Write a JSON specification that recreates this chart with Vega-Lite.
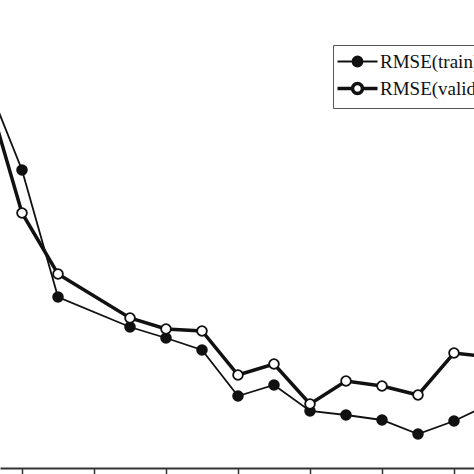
{
  "$schema": "https://vega.github.io/schema/vega-lite/v6.json",
  "width": 474,
  "height": 468,
  "padding": 0,
  "autosize": {"type": "pad"},
  "background": "white",
  "config": {"view": {"stroke": null}},
  "data": {
    "values": [
      {"series": "RMSE(train)", "x": 0, "rmse": 0.970},
      {"series": "RMSE(train)", "x": 1, "rmse": 0.745},
      {"series": "RMSE(train)", "x": 2, "rmse": 0.4275},
      {"series": "RMSE(train)", "x": 4, "rmse": 0.3525},
      {"series": "RMSE(train)", "x": 5, "rmse": 0.325},
      {"series": "RMSE(train)", "x": 6, "rmse": 0.295},
      {"series": "RMSE(train)", "x": 7, "rmse": 0.18},
      {"series": "RMSE(train)", "x": 8, "rmse": 0.2075},
      {"series": "RMSE(train)", "x": 9, "rmse": 0.1425},
      {"series": "RMSE(train)", "x": 10, "rmse": 0.1325},
      {"series": "RMSE(train)", "x": 11, "rmse": 0.12},
      {"series": "RMSE(train)", "x": 12, "rmse": 0.085},
      {"series": "RMSE(train)", "x": 13, "rmse": 0.1175},
      {"series": "RMSE(train)", "x": 14, "rmse": 0.16},
      {"series": "RMSE(valid)", "x": 0, "rmse": 0.9475},
      {"series": "RMSE(valid)", "x": 1, "rmse": 0.6375},
      {"series": "RMSE(valid)", "x": 2, "rmse": 0.485},
      {"series": "RMSE(valid)", "x": 4, "rmse": 0.375},
      {"series": "RMSE(valid)", "x": 5, "rmse": 0.3475},
      {"series": "RMSE(valid)", "x": 6, "rmse": 0.3425},
      {"series": "RMSE(valid)", "x": 7, "rmse": 0.2325},
      {"series": "RMSE(valid)", "x": 8, "rmse": 0.26},
      {"series": "RMSE(valid)", "x": 9, "rmse": 0.16},
      {"series": "RMSE(valid)", "x": 10, "rmse": 0.2175},
      {"series": "RMSE(valid)", "x": 11, "rmse": 0.205},
      {"series": "RMSE(valid)", "x": 12, "rmse": 0.1825},
      {"series": "RMSE(valid)", "x": 13, "rmse": 0.2875},
      {"series": "RMSE(valid)", "x": 14, "rmse": 0.2775}
    ]
  },
  "encoding": {
    "x": {
      "field": "x",
      "type": "quantitative",
      "scale": {"domain": [0.3889, 13.5556], "nice": false, "zero": false},
      "axis": {
        "values": [1, 3, 5, 7, 9, 11, 13],
        "labels": false,
        "title": null,
        "grid": false,
        "ticks": true,
        "tickSize": 10,
        "tickColor": "#333",
        "tickWidth": 1.5,
        "domainColor": "#333",
        "domainWidth": 2
      }
    },
    "y": {
      "field": "rmse",
      "type": "quantitative",
      "scale": {"domain": [0, 1.17], "nice": false, "zero": false},
      "axis": null
    }
  },
  "layer": [
    {
      "mark": {"type": "line", "clip": true, "color": "#111"},
      "encoding": {
        "detail": {"field": "series", "type": "nominal"},
        "strokeWidth": {
          "field": "series",
          "type": "nominal",
          "scale": {"range": [1.8, 3.5]},
          "legend": null
        }
      }
    },
    {
      "mark": {
        "type": "point",
        "shape": "circle",
        "filled": true,
        "stroke": "#111",
        "strokeWidth": 1.8,
        "size": 95,
        "opacity": 1,
        "clip": true
      },
      "encoding": {
        "fill": {
          "field": "series",
          "type": "nominal",
          "scale": {"domain": ["RMSE(train)", "RMSE(valid)"], "range": ["#111111", "#ffffff"]},
          "legend": {
            "orient": "none",
            "legendX": 333,
            "legendY": 45,
            "title": null,
            "symbolType": "M-1,0L-0.25,0M0.25,0C0.25,0.138 0.138,0.25 0,0.25C-0.138,0.25 -0.25,0.138 -0.25,0C-0.25,-0.138 -0.138,-0.25 0,-0.25C0.138,-0.25 0.25,-0.138 0.25,0ZM0.25,0L1,0",
            "symbolSize": 1600,
            "symbolStrokeColor": "#111",
            "symbolStrokeWidth": 2,
            "symbolOpacity": 1,
            "symbolOffset": 8,
            "labelFont": "Liberation Serif",
            "labelFontSize": 19,
            "labelColor": "#111",
            "labelOffset": 13,
            "labelLimit": 300,
            "strokeColor": "#555",
            "fillColor": "white",
            "padding": 7,
            "rowPadding": 4,
            "encode": {
              "symbols": {
                "update": {
                  "strokeWidth": {"signal": "datum.value === 'RMSE(valid)' ? 3.5 : 1.8"}
                }
              }
            }
          }
        }
      }
    }
  ]
}
